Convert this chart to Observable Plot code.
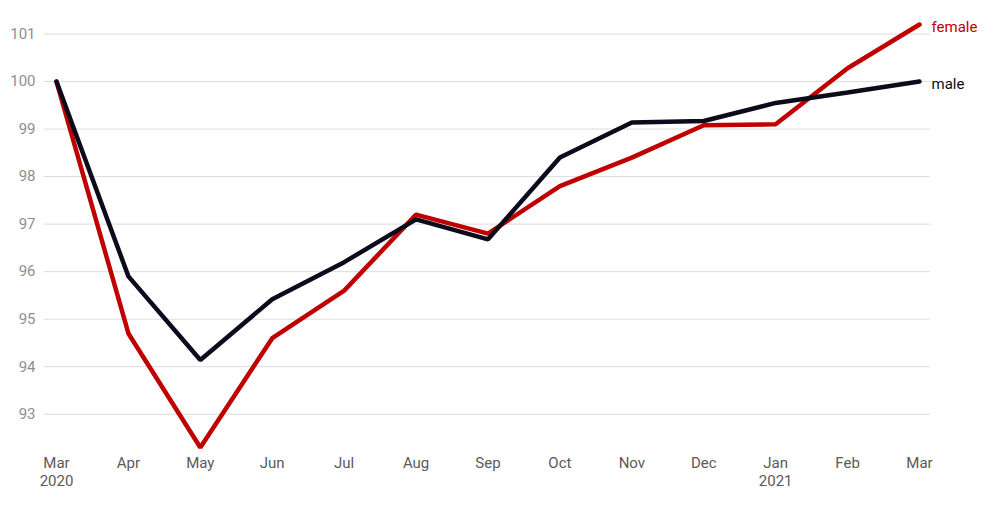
<!DOCTYPE html>
<html>
<head>
<meta charset="utf-8">
<script src="https://cdn.jsdelivr.net/npm/d3@7"></script>
<script src="https://cdn.jsdelivr.net/npm/@observablehq/plot@0.6"></script>
<style>
  html, body { margin: 0; padding: 0; background: #fff; }
  #chart svg { display: block; font-family: Roboto, "Noto Sans", sans-serif; }
</style>
</head>
<body>
<div id="chart"></div>
<script>
const months = ["2020-03","2020-04","2020-05","2020-06","2020-07","2020-08","2020-09","2020-10","2020-11","2020-12","2021-01","2021-02","2021-03"];
const monthLabels = ["Mar\n2020","Apr","May","Jun","Jul","Aug","Sep","Oct","Nov","Dec","Jan\n2021","Feb","Mar"];
const female = [100, 94.7, 92.3, 94.6, 95.6, 97.2, 96.8, 97.8, 98.4, 99.08, 99.1, 100.28, 101.2];
const male = [100, 95.9, 94.14, 95.42, 96.2, 97.1, 96.68, 98.4, 99.14, 99.17, 99.55, 99.77, 100];
const yTicks = [93, 94, 95, 96, 97, 98, 99, 100, 101];
const seriesNames = ["female", "male"];
const seriesColors = ["#c00000", "#0b0b1c"];

const rows = [];
months.forEach((m, i) => {
  rows.push({month: m, value: female[i], sex: "female"});
  rows.push({month: m, value: male[i], sex: "male"});
});
const lastRows = rows.filter(d => d.month === months[months.length - 1]);
const labelFor = new Map(months.map((m, i) => [m, monthLabels[i]]));

const chart = Plot.plot({
  width: 1000,
  height: 512,
  marginLeft: 56,
  marginRight: 81,
  marginTop: 24,
  marginBottom: 65,
  style: {fontFamily: "Roboto, 'Noto Sans', sans-serif", fontSize: "15px"},
  x: {type: "point", domain: months, padding: 0, round: false},
  y: {domain: [92.3, 101.2]},
  color: {domain: seriesNames, range: seriesColors},
  marks: [
    Plot.ruleY(yTicks, {stroke: "#dcdcdc", strokeWidth: 1, insetLeft: -12, insetRight: -11}),
    Plot.axisY({ticks: yTicks, tickSize: 0, tickPadding: 21, fill: "#8f8f8f", fontSize: 15, label: null}),
    Plot.axisX({tickSize: 0, tickPadding: 8, fill: "#5a5a5a", fontSize: 15, label: null, lineHeight: 1.2, tickFormat: d => labelFor.get(d)}),
    Plot.line(rows, {x: "month", y: "value", z: "sex", stroke: "sex", strokeWidth: 4.5, strokeLinecap: "round", strokeLinejoin: "miter"}),
    Plot.text(lastRows, {x: "month", y: "value", text: "sex", fill: "sex", dx: 12, dy: 2.5, textAnchor: "start", fontSize: 15})
  ]
});
document.getElementById("chart").appendChild(chart);
</script>
</body>
</html>
